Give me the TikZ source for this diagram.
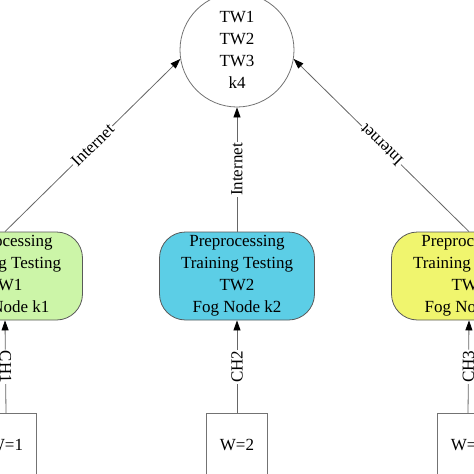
\documentclass[tikz,border=0pt]{standalone}
\usepackage{fontspec}
\setmainfont{Liberation Serif}
\usetikzlibrary{arrows.meta}
\definecolor{fogGreen}{RGB}{204,245,168}
\definecolor{fogCyan}{RGB}{92,206,230}
\definecolor{fogYellow}{RGB}{240,245,110}
\begin{document}
\begin{tikzpicture}[x=1pt,y=-1pt,
    every node/.style={font=\fontsize{17}{22}\selectfont},
    fognode/.style={draw=black!65, line width=0.8pt, rounded corners=26pt,
      minimum width=155pt, minimum height=88pt, align=center, inner sep=2pt},
    cloud/.style={draw=black!55, line width=0.8pt, circle, minimum size=114pt,
      align=center, inner sep=0pt},
    wbox/.style={draw=black!55, line width=0.8pt, minimum width=61pt,
      minimum height=64pt, anchor=north},
    link/.style={draw=black!60, line width=0.8pt,
      -{Triangle[length=10pt,width=7pt,black]}},
    tag/.style={midway, sloped, fill=white, inner sep=1pt}]
  \useasboundingbox (0,0) rectangle (474,474);
  \node[cloud] (k4) at (237,50) {TW1\\TW2\\TW3\\k4};
  \node[fognode, fill=fogGreen] (k1) at (5,276)
    {Preprocessing\\Training Testing\\TW1\\Fog Node k1};
  \node[fognode, fill=fogCyan] (k2) at (237,276)
    {Preprocessing\\Training Testing\\TW2\\Fog Node k2};
  \node[fognode, fill=fogYellow] (k3) at (469,276)
    {Preprocessing\\Training Testing\\TW3\\Fog Node k3};
  \node[wbox] (w1) at (6,413) {W=1};
  \node[wbox] (w2) at (237,413) {W=2};
  \node[wbox] (w3) at (468,413) {W=3};
  % internet links
  \draw[link] (k1.north) -- node[tag] {Internet} (k4.189);
  \draw[link] (k2.north) -- node[tag] {Internet} (k4.south);
  \draw[link] (k3.north) -- node[tag, allow upside down] {Internet} (k4.-9);
  % channels
  \draw[link] (w1.north) -- node[tag] {CH1} (k1.south);
  \draw[link] (w2.north) -- node[tag] {CH2} (k2.south);
  \draw[link] (w3.north) -- node[tag] {CH3} (k3.south);
\end{tikzpicture}
\end{document}
